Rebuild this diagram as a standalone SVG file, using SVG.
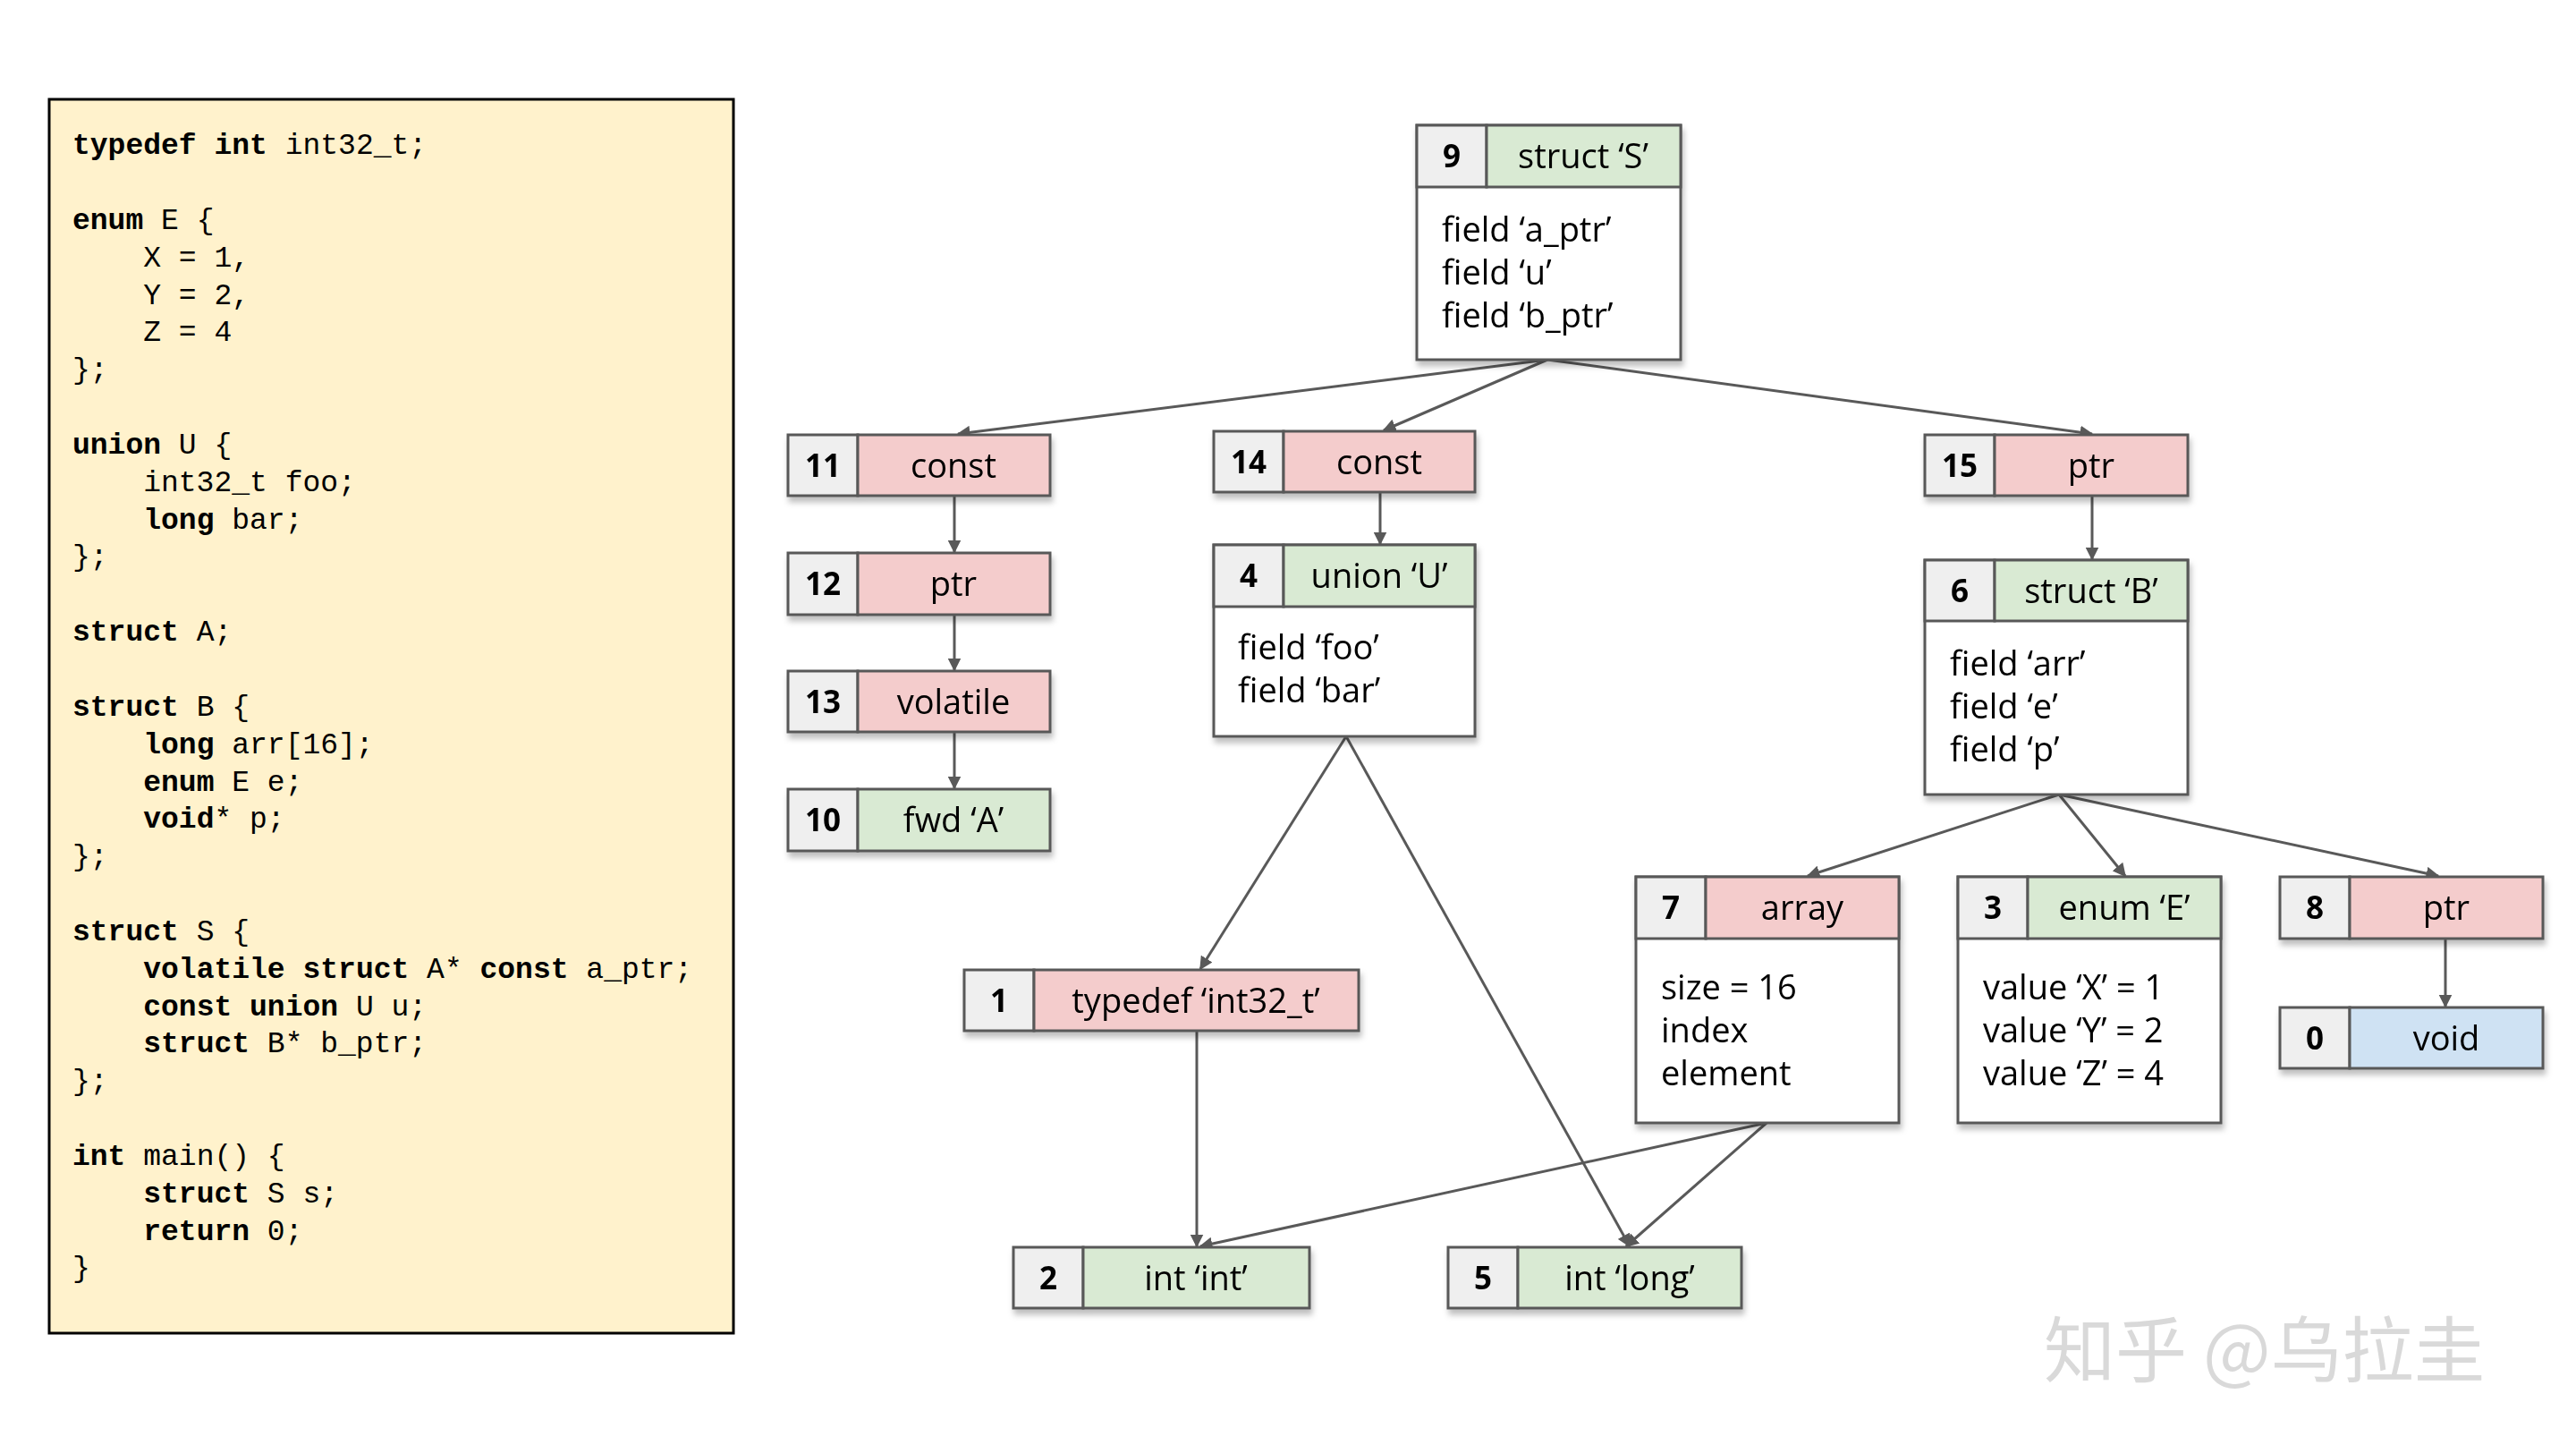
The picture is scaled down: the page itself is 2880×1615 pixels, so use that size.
<svg xmlns="http://www.w3.org/2000/svg" width="2880" height="1615" viewBox="0 0 2880 1615">
<defs>
<marker id="ah" viewBox="0 0 10 10" refX="9" refY="5" markerWidth="5" markerHeight="5" orient="auto"><path d="M0,0 L10,5 L0,10 z" fill="#595959"/></marker>
<filter id="sh" x="-10%" y="-10%" width="130%" height="140%"><feDropShadow dx="2" dy="6" stdDeviation="3" flood-color="#000" flood-opacity="0.25"/></filter>
<style>
.code{font-family:"Liberation Mono",monospace;font-size:33px;fill:#000}
.k{font-weight:bold}
.b{stroke:#595959;stroke-width:3}
.n{fill:#efefef}.r{fill:#f4cccc}.g{fill:#d9ead3}.u{fill:#cfe2f3}.w{fill:#fff}
.num{font-family:"Open Sans",sans-serif;font-size:35px;font-weight:bold;text-anchor:middle;fill:#000}
.lab{font-family:"Open Sans",sans-serif;font-size:38px;text-anchor:middle;fill:#000}
.body{font-family:"Open Sans",sans-serif;font-size:38px;fill:#000}
.e{stroke:#595959;stroke-width:3;fill:none;marker-end:url(#ah)}
</style>
</defs>
<rect width="2880" height="1615" fill="#fff"/>
<g id="code">
<rect x="55" y="111" width="765" height="1379" fill="#fff2cc" stroke="#000" stroke-width="3"/>
<text class="code" xml:space="preserve">
<tspan x="81" y="172"><tspan class="k">typedef</tspan> <tspan class="k">int</tspan> int32_t;</tspan>
<tspan x="81" y="256"><tspan class="k">enum</tspan> E {</tspan>
<tspan x="81" y="298">    X = 1,</tspan>
<tspan x="81" y="340">    Y = 2,</tspan>
<tspan x="81" y="381">    Z = 4</tspan>
<tspan x="81" y="423">};</tspan>
<tspan x="81" y="507"><tspan class="k">union</tspan> U {</tspan>
<tspan x="81" y="549">    int32_t foo;</tspan>
<tspan x="81" y="591">    <tspan class="k">long</tspan> bar;</tspan>
<tspan x="81" y="632">};</tspan>
<tspan x="81" y="716"><tspan class="k">struct</tspan> A;</tspan>
<tspan x="81" y="800"><tspan class="k">struct</tspan> B {</tspan>
<tspan x="81" y="842">    <tspan class="k">long</tspan> arr[16];</tspan>
<tspan x="81" y="884">    <tspan class="k">enum</tspan> E e;</tspan>
<tspan x="81" y="925">    <tspan class="k">void</tspan>* p;</tspan>
<tspan x="81" y="967">};</tspan>
<tspan x="81" y="1051"><tspan class="k">struct</tspan> S {</tspan>
<tspan x="81" y="1093">    <tspan class="k">volatile</tspan> <tspan class="k">struct</tspan> A* <tspan class="k">const</tspan> a_ptr;</tspan>
<tspan x="81" y="1135">    <tspan class="k">const</tspan> <tspan class="k">union</tspan> U u;</tspan>
<tspan x="81" y="1176">    <tspan class="k">struct</tspan> B* b_ptr;</tspan>
<tspan x="81" y="1218">};</tspan>
<tspan x="81" y="1302"><tspan class="k">int</tspan> main() {</tspan>
<tspan x="81" y="1344">    <tspan class="k">struct</tspan> S s;</tspan>
<tspan x="81" y="1386">    <tspan class="k">return</tspan> 0;</tspan>
<tspan x="81" y="1427">}</tspan>
</text>
</g>
<g id="connectors">
<line class="e" x1="1730" y1="402" x2="1071" y2="485"/>
<line class="e" x1="1730" y1="402" x2="1547" y2="481"/>
<line class="e" x1="1730" y1="402" x2="2339" y2="485"/>
<line class="e" x1="1067" y1="554" x2="1067" y2="617"/>
<line class="e" x1="1067" y1="687" x2="1067" y2="749"/>
<line class="e" x1="1067" y1="818" x2="1067" y2="881"/>
<line class="e" x1="1543" y1="550" x2="1543" y2="608"/>
<line class="e" x1="2339" y1="554" x2="2339" y2="625"/>
<line class="e" x1="1505" y1="823" x2="1342" y2="1083"/>
<line class="e" x1="1505" y1="823" x2="1822" y2="1393"/>
<line class="e" x1="1338" y1="1152" x2="1338" y2="1393"/>
<line class="e" x1="2302" y1="888" x2="2021" y2="979"/>
<line class="e" x1="2302" y1="888" x2="2376" y2="979"/>
<line class="e" x1="2302" y1="888" x2="2726" y2="979"/>
<line class="e" x1="2734" y1="1049" x2="2734" y2="1125"/>
<line class="e" x1="1975" y1="1255" x2="1342" y2="1393"/>
<line class="e" x1="1975" y1="1255" x2="1818" y2="1393"/>
</g>
<g id="n9" filter="url(#sh)">
<rect class="w b" x="1584" y="140" width="295" height="262"/>
<rect class="n b" x="1584" y="140" width="78" height="69"/>
<rect class="g b" x="1662" y="140" width="217" height="69"/>
<text class="num" x="1623" y="187">9</text>
<text class="lab" x="1770" y="188">struct ‘S’</text>
<text class="body" x="1612" y="270">field ‘a_ptr’</text>
<text class="body" x="1612" y="318">field ‘u’</text>
<text class="body" x="1612" y="366">field ‘b_ptr’</text>
</g>
<g id="n11" filter="url(#sh)">
<rect class="n b" x="881" y="486" width="78" height="68"/>
<rect class="r b" x="959" y="486" width="215" height="68"/>
<text class="num" x="920" y="533">11</text>
<text class="lab" x="1066" y="534">const</text>
</g>
<g id="n12" filter="url(#sh)">
<rect class="n b" x="881" y="618" width="78" height="69"/>
<rect class="r b" x="959" y="618" width="215" height="69"/>
<text class="num" x="920" y="665">12</text>
<text class="lab" x="1066" y="666">ptr</text>
</g>
<g id="n13" filter="url(#sh)">
<rect class="n b" x="881" y="750" width="78" height="68"/>
<rect class="r b" x="959" y="750" width="215" height="68"/>
<text class="num" x="920" y="797">13</text>
<text class="lab" x="1066" y="798">volatile</text>
</g>
<g id="n10" filter="url(#sh)">
<rect class="n b" x="881" y="882" width="78" height="69"/>
<rect class="g b" x="959" y="882" width="215" height="69"/>
<text class="num" x="920" y="929">10</text>
<text class="lab" x="1066" y="930">fwd ‘A’</text>
</g>
<g id="n14" filter="url(#sh)">
<rect class="n b" x="1357" y="482" width="78" height="68"/>
<rect class="r b" x="1435" y="482" width="214" height="68"/>
<text class="num" x="1396" y="529">14</text>
<text class="lab" x="1542" y="530">const</text>
</g>
<g id="n4" filter="url(#sh)">
<rect class="w b" x="1357" y="609" width="292" height="214"/>
<rect class="n b" x="1357" y="609" width="78" height="69"/>
<rect class="g b" x="1435" y="609" width="214" height="69"/>
<text class="num" x="1396" y="656">4</text>
<text class="lab" x="1542" y="657">union ‘U’</text>
<text class="body" x="1384" y="737">field ‘foo’</text>
<text class="body" x="1384" y="785">field ‘bar’</text>
</g>
<g id="n15" filter="url(#sh)">
<rect class="n b" x="2152" y="486" width="78" height="68"/>
<rect class="r b" x="2230" y="486" width="216" height="68"/>
<text class="num" x="2191" y="533">15</text>
<text class="lab" x="2338" y="534">ptr</text>
</g>
<g id="n6" filter="url(#sh)">
<rect class="w b" x="2152" y="626" width="294" height="262"/>
<rect class="n b" x="2152" y="626" width="78" height="68"/>
<rect class="g b" x="2230" y="626" width="216" height="68"/>
<text class="num" x="2191" y="673">6</text>
<text class="lab" x="2338" y="674">struct ‘B’</text>
<text class="body" x="2180" y="755">field ‘arr’</text>
<text class="body" x="2180" y="803">field ‘e’</text>
<text class="body" x="2180" y="851">field ‘p’</text>
</g>
<g id="n7" filter="url(#sh)">
<rect class="w b" x="1829" y="980" width="294" height="275"/>
<rect class="n b" x="1829" y="980" width="78" height="69"/>
<rect class="r b" x="1907" y="980" width="216" height="69"/>
<text class="num" x="1868" y="1027">7</text>
<text class="lab" x="2015" y="1028">array</text>
<text class="body" x="1857" y="1117">size = 16</text>
<text class="body" x="1857" y="1165">index</text>
<text class="body" x="1857" y="1213">element</text>
</g>
<g id="n3" filter="url(#sh)">
<rect class="w b" x="2189" y="980" width="294" height="275"/>
<rect class="n b" x="2189" y="980" width="78" height="69"/>
<rect class="g b" x="2267" y="980" width="216" height="69"/>
<text class="num" x="2228" y="1027">3</text>
<text class="lab" x="2375" y="1028">enum ‘E’</text>
<text class="body" x="2217" y="1117">value ‘X’ = 1</text>
<text class="body" x="2217" y="1165">value ‘Y’ = 2</text>
<text class="body" x="2217" y="1213">value ‘Z’ = 4</text>
</g>
<g id="n8" filter="url(#sh)">
<rect class="n b" x="2549" y="980" width="78" height="69"/>
<rect class="r b" x="2627" y="980" width="216" height="69"/>
<text class="num" x="2588" y="1027">8</text>
<text class="lab" x="2735" y="1028">ptr</text>
</g>
<g id="n0" filter="url(#sh)">
<rect class="n b" x="2549" y="1126" width="78" height="68"/>
<rect class="u b" x="2627" y="1126" width="216" height="68"/>
<text class="num" x="2588" y="1173">0</text>
<text class="lab" x="2735" y="1174">void</text>
</g>
<g id="n1" filter="url(#sh)">
<rect class="n b" x="1078" y="1084" width="78" height="68"/>
<rect class="r b" x="1156" y="1084" width="363" height="68"/>
<text class="num" x="1117" y="1131">1</text>
<text class="lab" x="1337" y="1132">typedef ‘int32_t’</text>
</g>
<g id="n2" filter="url(#sh)">
<rect class="n b" x="1133" y="1394" width="78" height="68"/>
<rect class="g b" x="1211" y="1394" width="253" height="68"/>
<text class="num" x="1172" y="1441">2</text>
<text class="lab" x="1337" y="1442">int ‘int’</text>
</g>
<g id="n5" filter="url(#sh)">
<rect class="n b" x="1619" y="1394" width="78" height="68"/>
<rect class="g b" x="1697" y="1394" width="250" height="68"/>
<text class="num" x="1658" y="1441">5</text>
<text class="lab" x="1822" y="1442">int ‘long’</text>
</g>
<text x="2285" y="1538" font-family="'Noto Sans CJK SC',sans-serif" font-size="80" fill="#d9d9d9">知乎 @乌拉圭</text>
</svg>
